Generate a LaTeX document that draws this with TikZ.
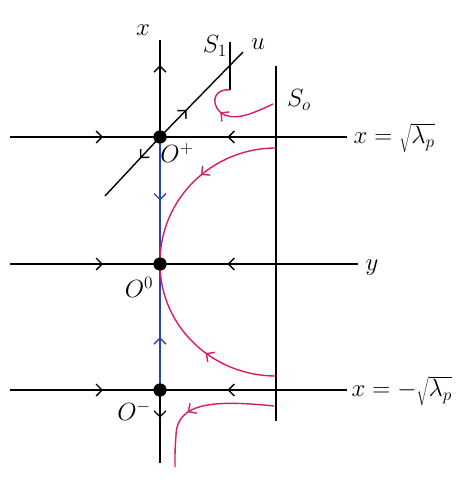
\documentclass[tikz,border=0pt]{standalone}
\usepackage{graphicx}
\usetikzlibrary{arrows.meta,decorations.markings}
\definecolor{mag}{RGB}{214,28,108}
\definecolor{bl}{RGB}{40,70,170}
\newcommand\lbl[1]{\scalebox{1.2}{$#1$}}
\begin{document}
\begin{tikzpicture}[x=1pt,y=-1pt,line width=1.4pt,
  marr/.style={postaction={decorate,decoration={markings,mark=at position #1 with {\arrow{Straight Barb[length=6pt,width=12pt,line width=1.4pt]}}}}},
  dot/.style={circle,fill=black,inner sep=0pt,minimum size=13pt},
  lab/.style={font=\huge,inner sep=0pt}]
\useasboundingbox (0,0) rectangle (474,484);
% points
\node[dot] (Op) at (160,137) {};
\node[dot] (Oz) at (160,264) {};
\node[dot] (Om) at (160,390) {};
\coordinate (xt) at (160,40);
\coordinate (xb) at (160,463);
\coordinate (L1) at (10,137); \coordinate (R1) at (347,137);
\coordinate (L2) at (10,264); \coordinate (R2) at (358,264);
\coordinate (L3) at (10,390); \coordinate (R3) at (347,390);
\coordinate (Vt) at (276,66); \coordinate (Vb) at (276,421);
\coordinate (Ut) at (243,52); \coordinate (Ub) at (105,196);
\coordinate (St) at (230,42); \coordinate (Sb) at (230,90);
% vertical axis
\draw[marr=0.74] (Op.center) -- (xt);
\draw[bl,marr=0.5] (Op.center) -- (Oz.center);
\draw[bl,marr=0.42] (Om.center) -- (Oz.center);
\draw[marr=0.38] (Om.center) -- (xb);
% horizontal lines
\draw[marr=0.62] (L1) -- (Op.center);
\draw[marr=0.64] (R1) -- (Op.center);
\draw[marr=0.62] (L2) -- (Oz.center);
\draw[marr=0.66] (R2) -- (Oz.center);
\draw[marr=0.62] (L3) -- (Om.center);
\draw[marr=0.64] (R3) -- (Om.center);
% right vertical line
\draw (Vt) -- (Vb);
% u line
\draw[marr=0.32] (Op.center) -- (Ut);
\draw[marr=0.36] (Op.center) -- (Ub);
% S1
\draw (St) -- (Sb);
% magenta curves
\draw[mag,marr=0.45] (276,148) arc[start angle=-90,end angle=-180,x radius=116,y radius=114];
\draw[mag,marr=0.42] (276,376) arc[start angle=-270,end angle=-180,x radius=116,y radius=112];
\draw[mag,marr=0.62] (273,104) .. controls (250,115) and (232,122) .. (220,112) .. controls (210,102) and (215,88) .. (Sb);
\draw[mag,marr=0.6] (274,406) .. controls (215,400) and (177,402) .. (176,435) .. controls (175,450) .. (175,467);
% dots on top
\node[dot] at (Op) {};
\node[dot] at (Oz) {};
\node[dot] at (Om) {};
% labels
\node[lab] (lx) at (143,30) {\lbl{x}};
\node[lab] (lS1) at (215,46) {\lbl{S_1}};
\node[lab] (lu) at (258,44) {\lbl{u}};
\node[lab] (lSo) at (299,100) {\lbl{S_o}};
\node[lab] (lOp) at (177,153) {\lbl{O^+}};
\node[lab] (lOz) at (139,287) {\lbl{O^0}};
\node[lab] (lOm) at (134,411) {\lbl{O^-}};
\node[lab] (ly) at (372,268) {\lbl{y}};
\node[lab,anchor=west] (l1) at (353,138) {\lbl{x=\sqrt{\lambda_p}}};
\node[lab,anchor=west] (l3) at (351,391) {\lbl{x=-\sqrt{\lambda_p}}};
\end{tikzpicture}
\end{document}
